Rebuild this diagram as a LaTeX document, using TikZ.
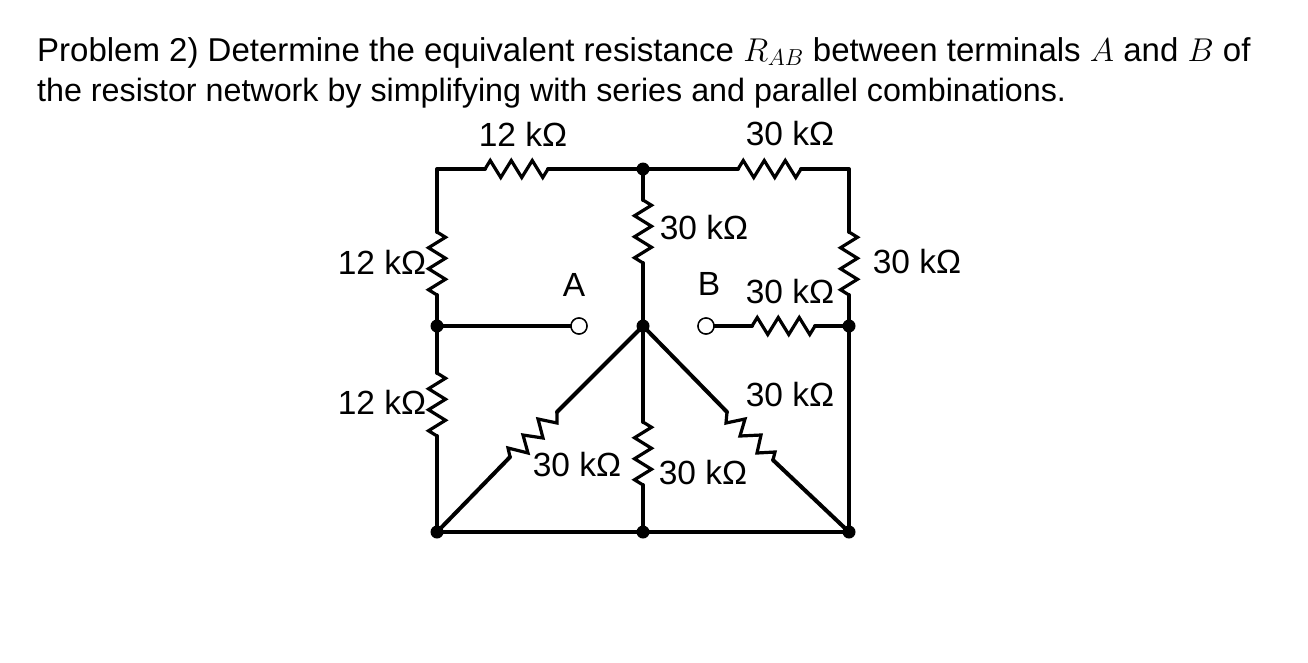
\RequirePackage{fix-cm}
\documentclass[tikz,border=0pt]{standalone}
\usepackage{fontspec}
\setmainfont{Liberation Sans}
\usetikzlibrary{decorations.pathmorphing}
\tikzset{
  x=1pt,y=-1pt,
  wire/.style={line width=4pt,line cap=round,line join=round,black},
  res/.style={line width=3.2pt,line join=miter,black,decorate,decoration={zigzag,segment length=21pt,amplitude=8.5pt}},
  stair/.style={line width=3.2pt,line join=miter,black},
  dot/.style={circle,fill=black,inner sep=0pt,minimum size=13pt},
  term/.style={circle,draw=black,fill=white,line width=1.4pt,inner sep=0pt,minimum size=16pt},
  val/.style={inner sep=0pt,font=\fontsize{33.5}{35}\selectfont},
  title/.style={inner sep=0pt,anchor=base west,font=\fontsize{32.25}{34}\selectfont},
  titlewide/.style={inner sep=0pt,anchor=base west,font=\fontsize{33}{35}\selectfont}
}
\begin{document}
\begin{tikzpicture}
\useasboundingbox (0,0) rectangle (1308,662);
\node[titlewide] (t1) at (37,61) {Problem 2) Determine the equivalent resistance $R_{AB}$ between terminals $A$ and $B$ of};
\node[title] (t2) at (37,101) {the resistor network by simplifying with series and parallel combinations.};
% junctions
\node[dot] (TM) at (643,169) {};
\node[dot] (ML) at (437,326) {};
\node[dot] (M) at (643,326) {};
\node[dot] (MR) at (849,326) {};
\node[dot] (BL) at (437,532) {};
\node[dot] (BM) at (643,532) {};
\node[dot] (BR) at (849,532) {};
\coordinate (TL) at (437,169);
\coordinate (TR) at (849,169);
\node[term] (A) at (579,326) {};
\node[term] (B) at (706,326) {};
% resistor ends
\coordinate (r1a) at (485,169); \coordinate (r1b) at (548,169);
\coordinate (r2a) at (738,169); \coordinate (r2b) at (801,169);
\coordinate (r3a) at (437,232); \coordinate (r3b) at (437,295);
\coordinate (r4a) at (437,373); \coordinate (r4b) at (437,436);
\coordinate (r5a) at (643,200); \coordinate (r5b) at (643,263);
\coordinate (r6a) at (849,232); \coordinate (r6b) at (849,295);
\coordinate (r7a) at (643,422); \coordinate (r7b) at (643,485);
\coordinate (r8a) at (752,326); \coordinate (r8b) at (815,326);
\coordinate (r9a) at (557,412); \coordinate (r9b) at (510,457);
\coordinate (r10a) at (727,412); \coordinate (r10b) at (773,460);
% wires
\draw[wire] (BL) -- (BM) -- (BR);
\draw[wire] (ML) -- (r4a) (r4b) -- (BL);
\draw[wire] (ML) -- (r3b) (r3a) -- (TL) -- (r1a) (r1b) -- (TM) -- (r2a) (r2b) -- (TR) -- (r6a) (r6b) -- (MR) -- (BR);
\draw[wire] (TM) -- (r5a) (r5b) -- (M) -- (r7a) (r7b) -- (BM);
\draw[wire] (ML) -- (A);
\draw[wire] (B) -- (r8a) (r8b) -- (MR);
\draw[wire] (M) -- (r9a) (r9b) -- (BL);
\draw[wire] (M) -- (r10a) (r10b) -- (BR);
\node[term] at (A) {};
\node[term] at (B) {};
% resistors
\draw[res] (r1a) -- (r1b);
\draw[res] (r2a) -- (r2b);
\draw[res] (r3a) -- (r3b);
\draw[res] (r4a) -- (r4b);
\draw[res] (r5a) -- (r5b);
\draw[res] (r6a) -- (r6b);
\draw[res] (r7a) -- (r7b);
\draw[res] (r8a) -- (r8b);
\draw[stair] (r9a) -- (557,423) -- (538,419) -- (543,438) -- (523,435) -- (528,453) -- (508,448) -- (r9b);
\draw[stair] (r10a) -- (726,423) -- (745,419) -- (740,436) -- (761,435) -- (757,453) -- (775,452) -- (r10b);
% labels
\node[val] (l1) at (523,134) {12 kΩ};
\node[val] (l2) at (790,134) {30 kΩ};
\node[val] (l3) at (704,228) {30 kΩ};
\node[val] (l4) at (917,262) {30 kΩ};
\node[val] (l5) at (382,262) {12 kΩ};
\node[val] (l6) at (382,402) {12 kΩ};
\node[val] (l7) at (790,292) {30 kΩ};
\node[val] (l8) at (790,395) {30 kΩ};
\node[val] (l9) at (577,465) {30 kΩ};
\node[val] (l10) at (703,473) {30 kΩ};
\node[val] (lA) at (574,285) {A};
\node[val] (lB) at (709,284) {B};
\end{tikzpicture}
\end{document}
